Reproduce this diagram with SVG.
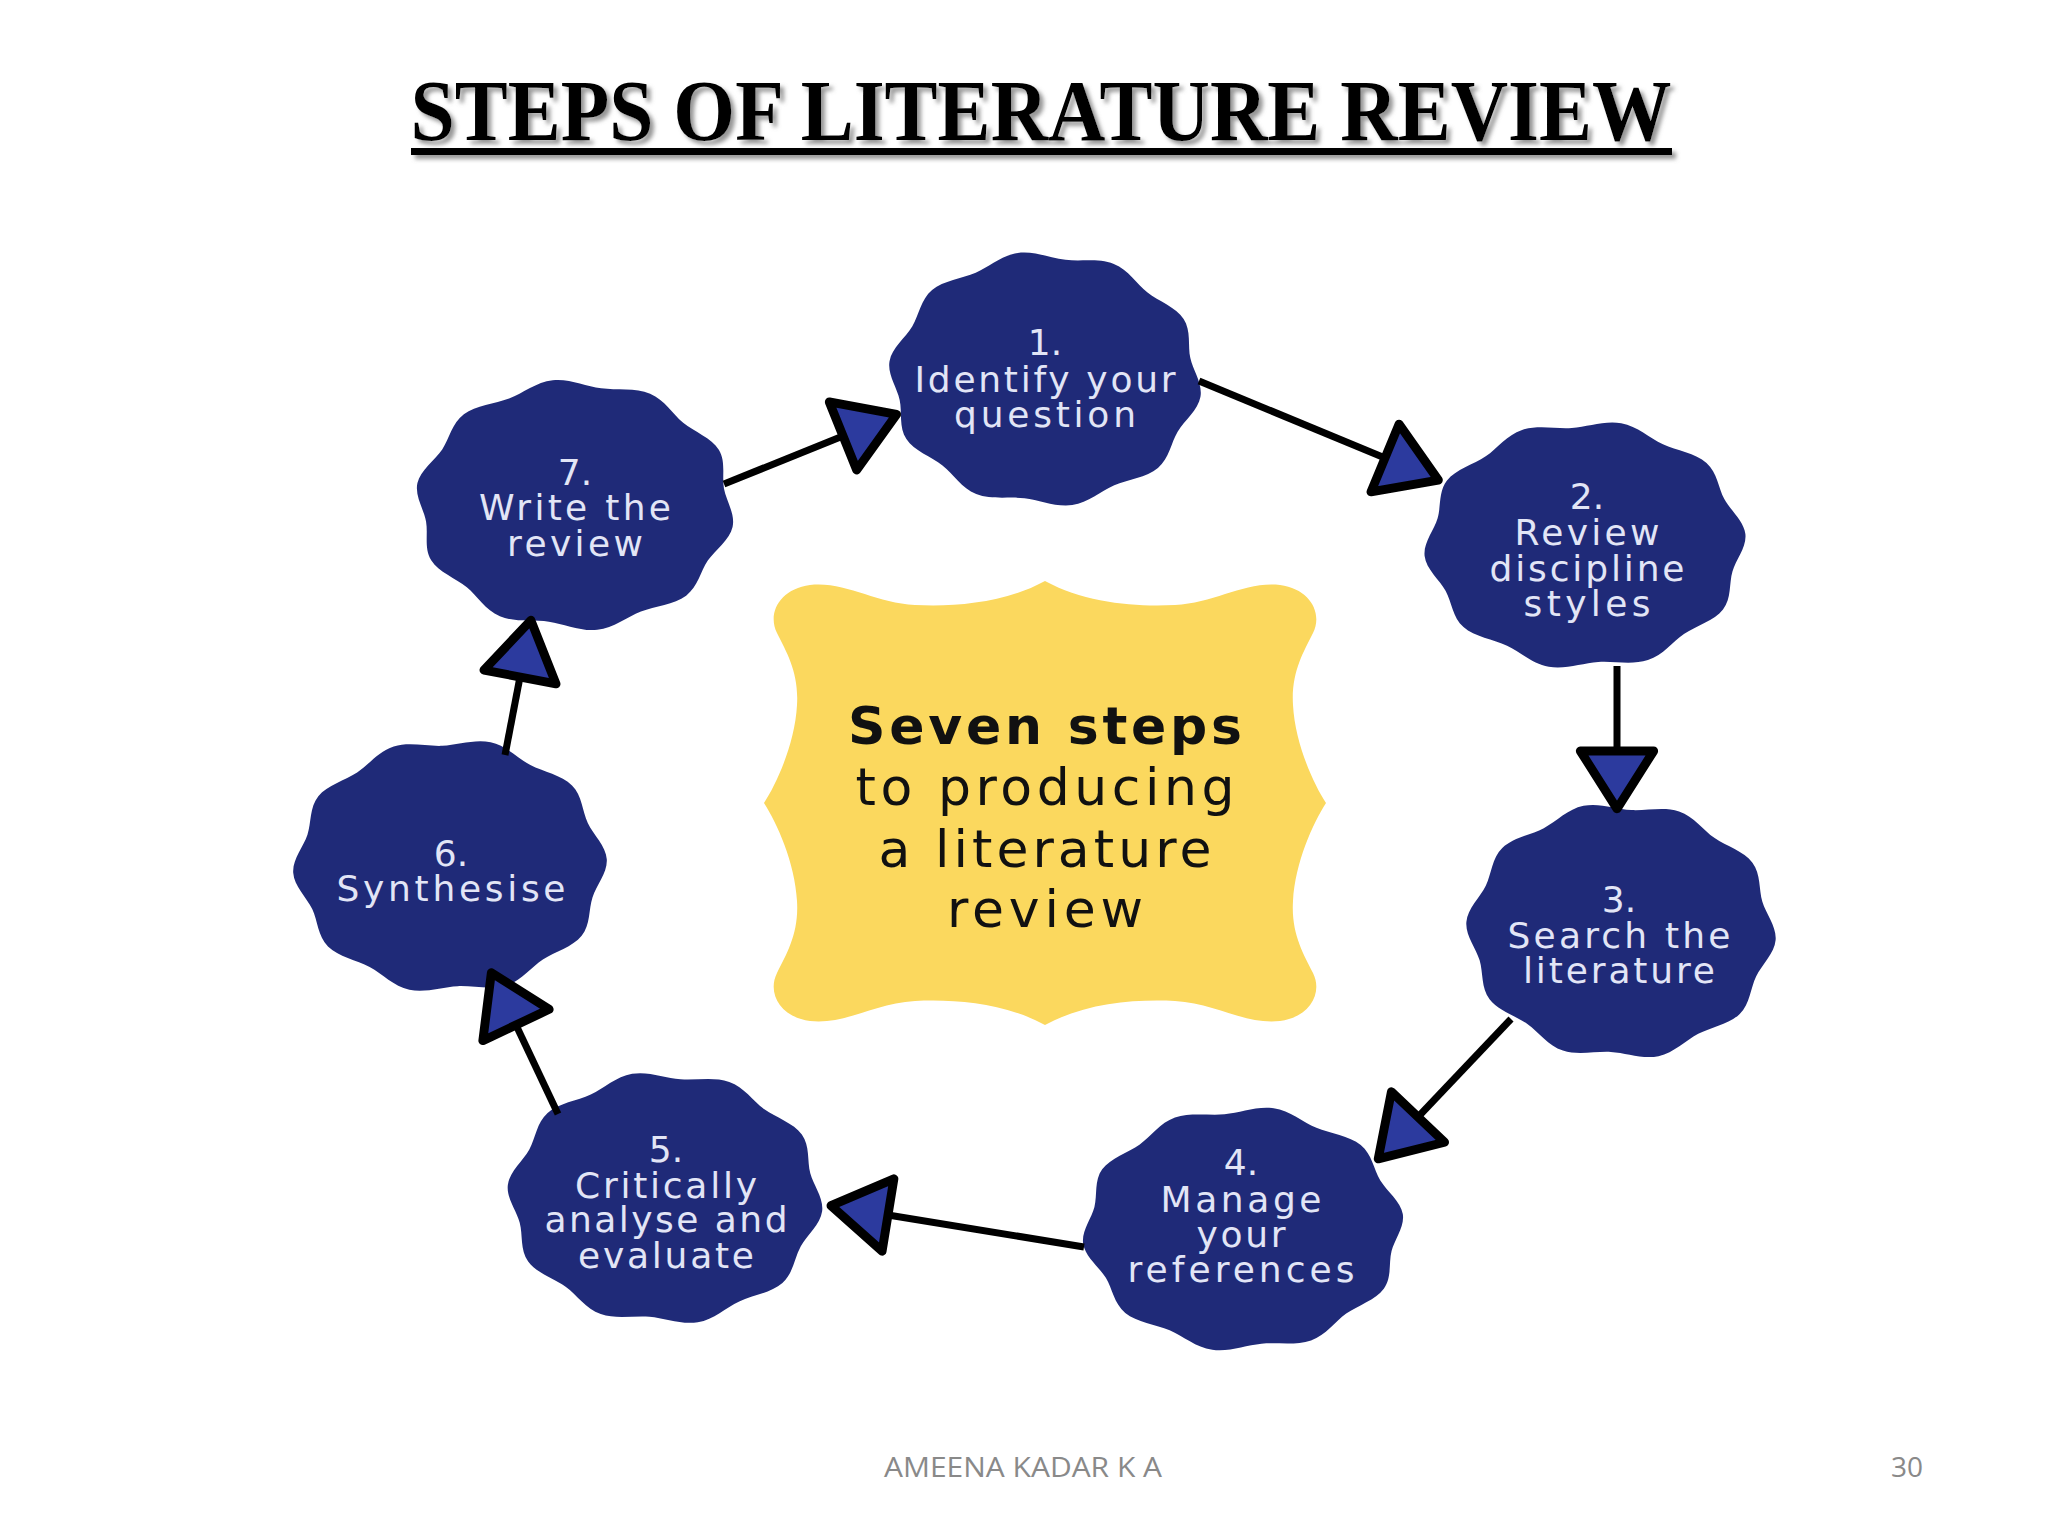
<svg xmlns="http://www.w3.org/2000/svg" width="2048" height="1536" viewBox="0 0 2048 1536">
<defs>
<style>
.blob{fill:#1f2a78}
.nt{font-family:"DejaVu Sans",sans-serif;font-size:36px;fill:#e2e5f6;text-anchor:middle}
.ct{font-family:"DejaVu Sans",sans-serif;font-size:52px;fill:#111;text-anchor:middle}
.conn{stroke:#000;stroke-width:7;fill:none;marker-end:url(#arr)}
</style>
<filter id="sh" x="-5%" y="-20%" width="110%" height="160%">
<feDropShadow dx="4" dy="4" stdDeviation="2" flood-color="#8a8a8a" flood-opacity="0.9"/>
</filter>
<path id="wave" d="M100,0 C100,10.5 92.45,19.66 89.40,29.05 C86.35,38.44 87.07,50.29 80.90,58.78 C74.73,67.27 63.23,70.25 55.25,76.05 C47.27,81.85 40.89,91.87 30.90,95.11 C20.91,98.35 9.87,94 0,94 C-9.87,94 -20.91,98.35 -30.90,95.11 C-40.89,91.87 -47.27,81.85 -55.25,76.05 C-63.23,70.25 -74.73,67.27 -80.90,58.78 C-87.07,50.29 -86.35,38.44 -89.40,29.05 C-92.45,19.66 -100,10.5 -100,0 C-100,-10.5 -92.45,-19.66 -89.40,-29.05 C-86.35,-38.44 -87.07,-50.29 -80.90,-58.78 C-74.73,-67.27 -63.23,-70.25 -55.25,-76.05 C-47.27,-81.85 -40.89,-91.87 -30.90,-95.11 C-20.91,-98.35 -9.87,-94 0,-94 C9.87,-94 20.91,-98.35 30.90,-95.11 C40.89,-91.87 47.27,-81.85 55.25,-76.05 C63.23,-70.25 74.73,-67.27 80.90,-58.78 C87.07,-50.29 86.35,-38.44 89.40,-29.05 C92.45,-19.66 100,-10.5 100,0 Z"/>
<marker id="arr" markerUnits="userSpaceOnUse" markerWidth="90" markerHeight="100" viewBox="-10 -45 80 90" refX="0" refY="0" orient="auto" overflow="visible">
<path d="M0,-33 L52,0 L0,33 Z" fill="#2c3a9e" stroke="#000" stroke-width="8" stroke-linejoin="round"/>
</marker>
</defs>
<rect width="2048" height="1536" fill="#ffffff"/>

<g id="title" filter="url(#sh)">
<text x="1041" y="140" font-family="'Liberation Serif',serif" font-weight="bold" font-size="86" text-anchor="middle" textLength="1261" lengthAdjust="spacingAndGlyphs" fill="#000">STEPS OF LITERATURE REVIEW</text>
<rect x="411" y="148" width="1261" height="7" fill="#000"/>
</g>

<g id="center">
<path transform="translate(1045,803)" fill="#fbd85e" d="M0,-222 C40,-200 90,-196 130,-198 C170,-200 200,-222 235,-218 C265,-214 278,-190 268,-170 C258,-150 246,-130 248,-98 C250,-60 268,-20 281,0 C268,20 250,60 248,98 C246,130 258,150 268,170 C278,190 265,214 235,218 C200,222 170,200 130,198 C90,196 40,200 0,222 C-40,200 -90,196 -130,198 C-170,200 -200,222 -235,218 C-265,214 -278,190 -268,170 C-258,150 -246,130 -248,98 C-250,60 -268,20 -281,0 C-268,-20 -250,-60 -248,-98 C-246,-130 -258,-150 -268,-170 C-278,-190 -265,-214 -235,-218 C-200,-222 -170,-200 -130,-198 C-90,-196 -40,-200 0,-222 Z"/>
<text class="ct" x="1045" y="744" font-weight="bold" textLength="394" lengthAdjust="spacing">Seven steps</text>
<text class="ct" x="1045" y="805" textLength="379" lengthAdjust="spacing">to producing</text>
<text class="ct" x="1045" y="867" textLength="333" lengthAdjust="spacing">a literature</text>
<text class="ct" x="1045" y="927" textLength="196" lengthAdjust="spacing">review</text>
</g>

<g id="node1">
<use href="#wave" class="blob" transform="translate(1045,379) scale(1.57,1.28) rotate(8)"/>
<text class="nt" x="1045" y="355">1.</text>
<text class="nt" x="1045" y="392" textLength="261" lengthAdjust="spacing">Identify your</text>
<text class="nt" x="1045" y="427" textLength="182" lengthAdjust="spacing">question</text>
</g>
<g id="node2">
<use href="#wave" class="blob" transform="translate(1585,545) scale(1.61,1.25) rotate(-5)"/>
<text class="nt" x="1587" y="509">2.</text>
<text class="nt" x="1587" y="545" textLength="145" lengthAdjust="spacing">Review</text>
<text class="nt" x="1587" y="581" textLength="195" lengthAdjust="spacing">discipline</text>
<text class="nt" x="1587" y="616" textLength="127" lengthAdjust="spacing">styles</text>
</g>
<g id="node3">
<use href="#wave" class="blob" transform="translate(1621,931) scale(1.55,1.29) rotate(4)"/>
<text class="nt" x="1619" y="912">3.</text>
<text class="nt" x="1619" y="948" textLength="223" lengthAdjust="spacing">Search the</text>
<text class="nt" x="1619" y="983" textLength="192" lengthAdjust="spacing">literature</text>
</g>
<g id="node4">
<use href="#wave" class="blob" transform="translate(1243,1229) scale(1.61,1.23) rotate(-7)"/>
<text class="nt" x="1241" y="1175">4.</text>
<text class="nt" x="1241" y="1212" textLength="161" lengthAdjust="spacing">Manage</text>
<text class="nt" x="1241" y="1247" textLength="89" lengthAdjust="spacing">your</text>
<text class="nt" x="1241" y="1282" textLength="227" lengthAdjust="spacing">references</text>
</g>
<g id="node5">
<use href="#wave" class="blob" transform="translate(665,1198) scale(1.58,1.27) rotate(6)"/>
<text class="nt" x="666" y="1162">5.</text>
<text class="nt" x="666" y="1198" textLength="182" lengthAdjust="spacing">Critically</text>
<text class="nt" x="666" y="1232" textLength="243" lengthAdjust="spacing">analyse and</text>
<text class="nt" x="666" y="1268" textLength="176" lengthAdjust="spacing">evaluate</text>
</g>
<g id="node6">
<use href="#wave" class="blob" transform="translate(450,866) scale(1.57,1.28) rotate(-3)"/>
<text class="nt" x="451" y="866">6.</text>
<text class="nt" x="451" y="901" textLength="229" lengthAdjust="spacing">Synthesise</text>
</g>
<g id="node7">
<use href="#wave" class="blob" transform="translate(575,505) scale(1.6,1.26) rotate(10)"/>
<text class="nt" x="575" y="485">7.</text>
<text class="nt" x="575" y="520" textLength="192" lengthAdjust="spacing">Write the</text>
<text class="nt" x="575" y="556" textLength="136" lengthAdjust="spacing">review</text>
</g>

<g id="connectors">
<line class="conn" x1="724" y1="484" x2="843" y2="436"/>
<line class="conn" x1="1199" y1="381" x2="1385" y2="458"/>
<line class="conn" x1="1617" y1="666" x2="1617" y2="751"/>
<line class="conn" x1="1511" y1="1019" x2="1418" y2="1117"/>
<line class="conn" x1="1084" y1="1247" x2="888" y2="1215"/>
<line class="conn" x1="558" y1="1114" x2="516" y2="1025"/>
<line class="conn" x1="505" y1="755" x2="520" y2="677"/>
</g>

<g id="footer">
<text x="1023" y="1477" font-family="'Open Sans',sans-serif" font-size="28" fill="#898989" text-anchor="middle" textLength="278" lengthAdjust="spacingAndGlyphs">AMEENA KADAR K A</text>
<text x="1907" y="1477" font-family="'Open Sans',sans-serif" font-size="28" fill="#898989" text-anchor="middle">30</text>
</g>
</svg>
